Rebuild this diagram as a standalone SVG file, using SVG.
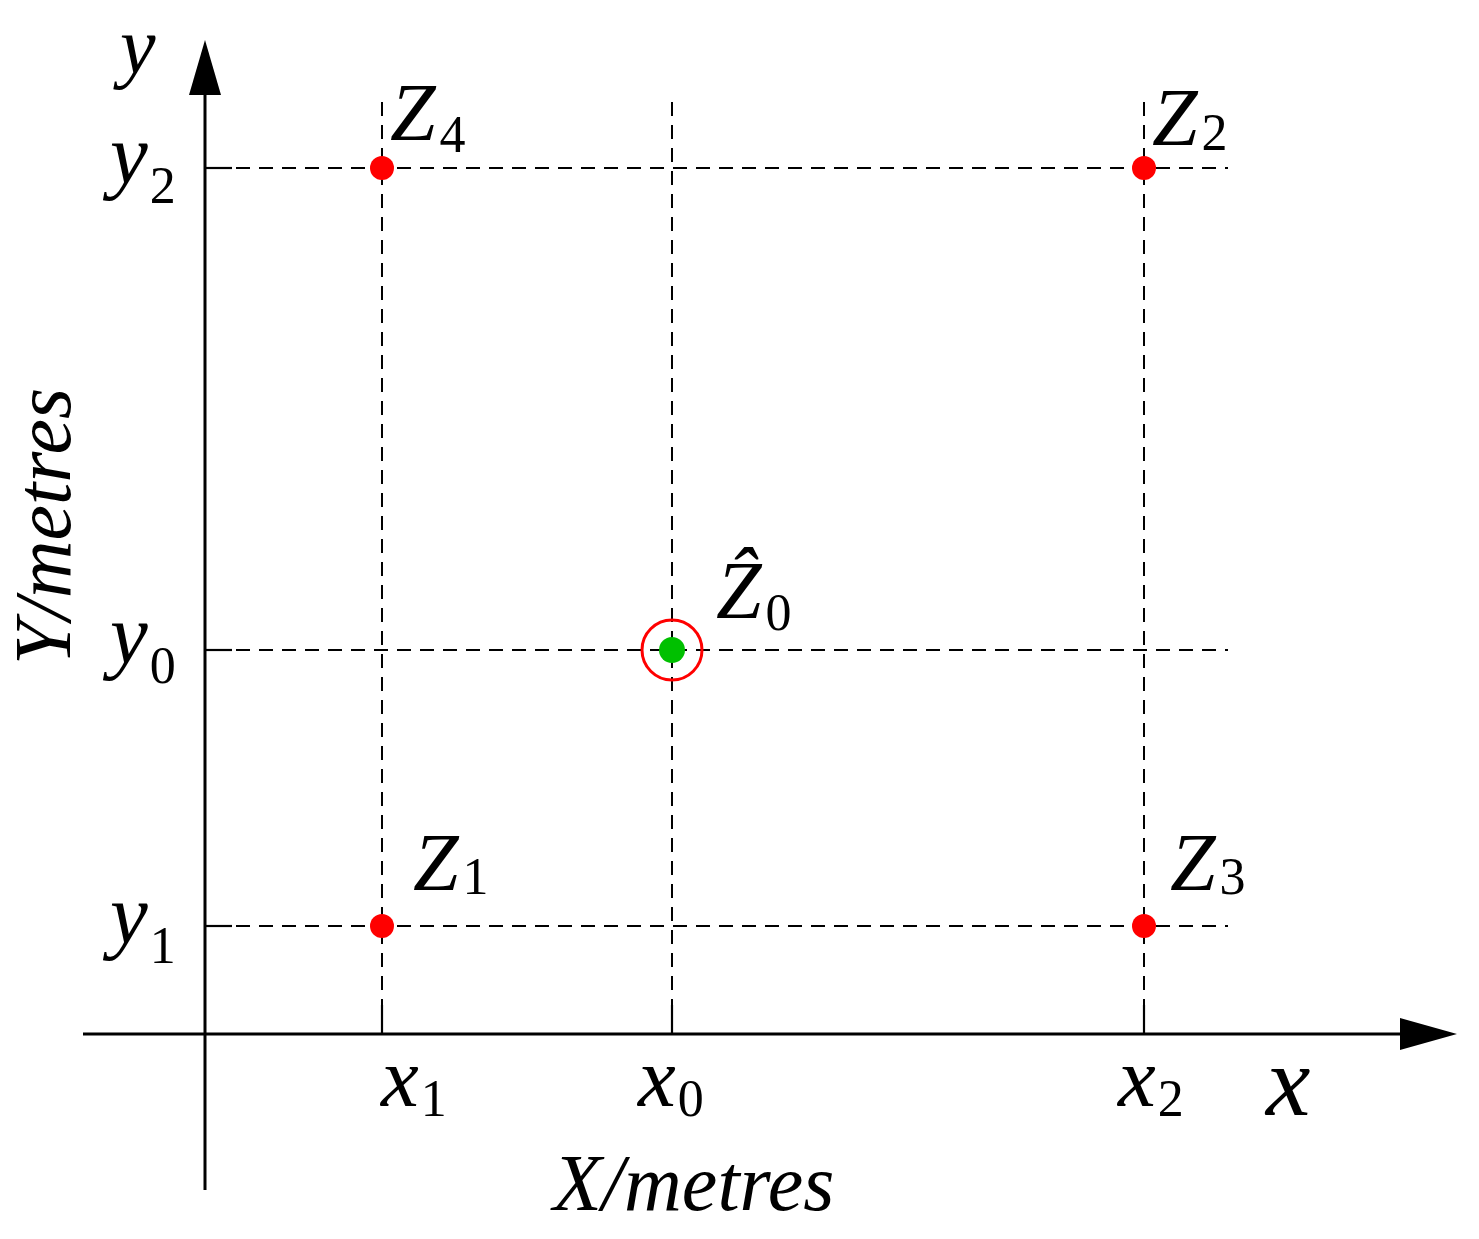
<svg xmlns="http://www.w3.org/2000/svg" width="1479" height="1239" viewBox="0 0 1479 1239">
<style>
.lbl{font-family:"Liberation Serif","Times New Roman",serif;font-style:italic;fill:#000}
.sub{font-style:normal}
.axis{stroke:#000;stroke-width:3;fill:none}
.dash{stroke:#000;stroke-width:2;stroke-dasharray:14,9;fill:none}
.tick{stroke:#000;stroke-width:2.2;fill:none}
.pt{fill:#ff0000}
</style>
<rect width="1479" height="1239" fill="#fff"/>
<g id="connectors">
  <line class="axis" x1="205" y1="1190" x2="205" y2="90"/>
  <polygon points="205,40 189,95 221,95" fill="#000"/>
  <line class="axis" x1="83" y1="1034" x2="1405" y2="1034"/>
  <polygon points="1457,1034 1400,1018 1400,1050" fill="#000"/>
  <line class="tick" x1="205" y1="168" x2="232" y2="168"/>
  <line class="tick" x1="205" y1="650" x2="232" y2="650"/>
  <line class="tick" x1="205" y1="926" x2="232" y2="926"/>
  <line class="tick" x1="382" y1="1005" x2="382" y2="1034"/>
  <line class="tick" x1="672" y1="1005" x2="672" y2="1034"/>
  <line class="tick" x1="1144" y1="1005" x2="1144" y2="1034"/>
  <line class="dash" x1="236" y1="168" x2="1228" y2="168"/>
  <line class="dash" x1="236" y1="650" x2="1228" y2="650"/>
  <line class="dash" x1="236" y1="926" x2="1228" y2="926"/>
  <line class="dash" x1="382" y1="102" x2="382" y2="1005"/>
  <line class="dash" x1="672" y1="102" x2="672" y2="1005"/>
  <line class="dash" x1="1144" y1="102" x2="1144" y2="1005"/>
</g>
<g id="Z4"><circle class="pt" cx="382" cy="168" r="12"/><text class="lbl" x="390" y="140" font-size="82">Z<tspan class="sub" font-size="52" dx="4" dy="12">4</tspan></text></g>
<g id="Z2"><circle class="pt" cx="1144" cy="168" r="12"/><text class="lbl" x="1152" y="145" font-size="82">Z<tspan class="sub" font-size="52" dx="4" dy="5">2</tspan></text></g>
<g id="Z1"><circle class="pt" cx="382" cy="926" r="12"/><text class="lbl" x="413" y="890" font-size="82">Z<tspan class="sub" font-size="52" dx="4" dy="4">1</tspan></text></g>
<g id="Z3"><circle class="pt" cx="1144" cy="926" r="12"/><text class="lbl" x="1170" y="890" font-size="82">Z<tspan class="sub" font-size="52" dx="4" dy="4">3</tspan></text></g>
<g id="Z0"><circle cx="672" cy="650" r="30" fill="none" stroke="#ff0000" stroke-width="3"/><circle cx="672" cy="650" r="13" fill="#00c000"/><text class="lbl" x="716" y="618" font-size="82">Ẑ<tspan class="sub" font-size="52" dx="4" dy="12">0</tspan></text></g>
<g id="labels">
  <text class="lbl" x="120" y="73" font-size="80">y</text>
  <text class="lbl" x="110" y="183" font-size="85">y<tspan class="sub" font-size="52" dx="2" dy="20">2</tspan></text>
  <text class="lbl" x="110" y="663" font-size="85">y<tspan class="sub" font-size="52" dx="2" dy="20">0</tspan></text>
  <text class="lbl" x="110" y="943" font-size="85">y<tspan class="sub" font-size="52" dx="2" dy="20">1</tspan></text>
  <text class="lbl" x="381" y="1106" font-size="85">x<tspan class="sub" font-size="52" dx="2" dy="10">1</tspan></text>
  <text class="lbl" x="638" y="1106" font-size="85">x<tspan class="sub" font-size="52" dx="2" dy="10">0</tspan></text>
  <text class="lbl" x="1118" y="1106" font-size="85">x<tspan class="sub" font-size="52" dx="2" dy="10">2</tspan></text>
  <text class="lbl" x="1266" y="1115" font-size="100">x</text>
  <text class="lbl" x="553" y="1210" font-size="80">X/metres</text>
  <text class="lbl" transform="translate(70,665) rotate(-90)" font-size="80">Y/metres</text>
</g>
</svg>
